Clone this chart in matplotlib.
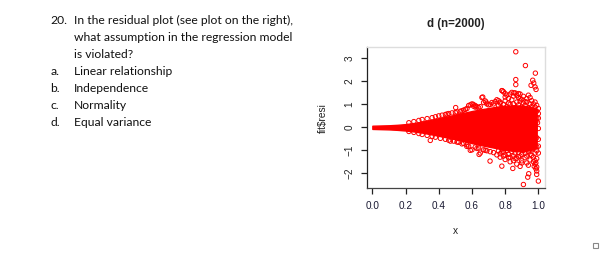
import matplotlib
matplotlib.use("Agg")
import matplotlib.pyplot as plt
from matplotlib.patches import Rectangle

# ---------------- data ----------------
question_number = "20."
question_lines = ["In the residual plot (see plot on the right),",
                  "what assumption in the regression model",
                  "is violated?"]
option_letters = ["a.", "b.", "c.", "d."]
option_texts = ["Linear relationship", "Independence", "Normality", "Equal variance"]

plot_title = "d (n=2000)"
x_label = "x"
y_label = "fit$resi"
x_ticks = [0.0, 0.2, 0.4, 0.6, 0.8, 1.0]
y_ticks = [-2, -1, 0, 1, 2, 3]

# dense core of the residual cloud (envelope)
core_x = [0.0, 0.05, 0.1, 0.15, 0.2, 0.25, 0.3, 0.35, 0.4, 0.45, 0.5, 0.55,
          0.6, 0.65, 0.7, 0.75, 0.8, 0.85, 0.9, 0.95, 0.99]
core_upper = [0.07, 0.08, 0.09, 0.11, 0.14, 0.19, 0.25, 0.32, 0.40, 0.47, 0.55, 0.63,
              0.71, 0.78, 0.84, 0.90, 0.94, 0.96, 0.95, 0.90, 0.80]
core_lower = [-0.07, -0.08, -0.09, -0.11, -0.14, -0.18, -0.23, -0.30, -0.37, -0.44, -0.52, -0.60,
              -0.69, -0.77, -0.84, -0.91, -0.98, -1.03, -1.05, -1.00, -0.90]

# individual visible points (edges and outliers)
pts_x = [
    # upper edge
    0.22, 0.25, 0.28, 0.30, 0.33, 0.36, 0.38, 0.40, 0.42, 0.44, 0.46, 0.48, 0.51, 0.53,
    0.55, 0.57, 0.58, 0.59, 0.60, 0.61, 0.62, 0.63, 0.64, 0.66, 0.67, 0.68, 0.69, 0.70,
    0.72, 0.73, 0.74, 0.75, 0.76, 0.78, 0.79, 0.80, 0.81, 0.82, 0.83, 0.84, 0.85, 0.86,
    0.87, 0.88, 0.89, 0.90, 0.91, 0.92, 0.93, 0.94, 0.95, 0.96, 0.97, 0.98, 0.99, 1.00,
    1.00, 1.00, 0.995, 1.00, 0.45, 0.50, 0.54, 0.56, 0.62, 0.65, 0.71, 0.77,
    # lower edge
    0.22, 0.25, 0.28, 0.30, 0.33, 0.36, 0.38, 0.41, 0.44, 0.46, 0.49, 0.52, 0.55, 0.57,
    0.59, 0.60, 0.62, 0.64, 0.65, 0.67, 0.69, 0.71, 0.73, 0.75, 0.77, 0.78, 0.79, 0.80,
    0.82, 0.83, 0.85, 0.86, 0.87, 0.88, 0.89, 0.90, 0.92, 0.93, 0.94, 0.95, 0.96, 0.97,
    0.98, 0.99, 1.00, 1.00, 1.00, 0.99, 0.985, 0.99, 0.47, 0.51, 0.54, 0.58, 0.63, 0.68,
    # upper fringe interior
    0.76, 0.77, 0.78, 0.79, 0.80, 0.81, 0.82, 0.83, 0.84, 0.85, 0.86, 0.87, 0.88, 0.89,
    0.90, 0.91, 0.92, 0.93, 0.94, 0.95, 0.96, 0.97, 0.98, 0.99, 0.975, 0.985, 0.97,
    0.80, 0.84, 0.88, 0.92, 0.96, 0.99, 0.82, 0.86, 0.90, 0.94, 0.98,
    # lower fringe interior
    0.76, 0.77, 0.78, 0.79, 0.80, 0.81, 0.82, 0.83, 0.84, 0.85, 0.86, 0.87, 0.88, 0.89,
    0.90, 0.91, 0.92, 0.93, 0.94, 0.95, 0.96, 0.97, 0.98, 0.99, 0.98, 0.985, 0.975,
    0.80, 0.84, 0.88, 0.92, 0.96, 0.99, 0.82, 0.86, 0.90, 0.94, 0.98,
    # outliers
    0.864, 0.922, 0.982, 0.864, 0.864, 0.966, 0.972, 0.956, 0.980, 0.986, 0.783, 0.800,
    0.852, 0.665, 0.685, 0.608, 0.880, 0.890, 0.502, 0.349, 0.569, 0.643, 0.709, 0.780,
    0.846, 0.910, 0.942, 0.936, 1.000, 0.990, 0.990, 0.900,
]
pts_y = [
    # upper edge
    0.20, 0.25, 0.30, 0.34, 0.38, 0.42, 0.46, 0.50, 0.53, 0.56, 0.60, 0.63, 0.67, 0.70,
    0.75, 0.82, 0.95, 0.98, 1.02, 0.92, 0.88, 0.90, 0.86, 1.30, 1.08, 1.15, 1.02, 0.98,
    1.08, 1.02, 1.12, 1.20, 1.16, 1.60, 1.55, 1.32, 1.40, 1.26, 1.45, 1.52, 1.36, 1.50,
    1.40, 1.30, 1.45, 1.22, 1.35, 1.12, 1.25, 1.40, 1.30, 1.16, 1.02, 1.10, 0.96, 0.82,
    0.60, 0.40, 0.20, -0.05, 0.58, 0.64, 0.72, 0.78, 0.95, 0.90, 1.00, 1.10,
    # lower edge
    -0.18, -0.22, -0.27, -0.31, -0.35, -0.39, -0.43, -0.48, -0.52, -0.56, -0.60, -0.65, -0.70, -0.76,
    -1.00, -0.98, -0.86, -0.90, -1.12, -0.98, -1.02, -1.06, -1.10, -1.20, -1.30, -1.08, -1.25, -1.40,
    -1.32, -1.50, -1.45, -1.36, -1.60, -1.28, -1.70, -1.46, -1.32, -1.55, -1.65, -1.42, -1.22, -1.50,
    -1.60, -1.36, -1.12, -0.82, -0.52, -1.02, -1.80, -2.05, -0.60, -0.64, -0.72, -0.82, -0.92, -1.00,
    # upper fringe interior
    0.95, 1.05, 0.85, 1.00, 1.15, 0.90, 1.05, 1.00, 1.20, 1.02, 0.85, 1.10, 0.98, 1.15,
    0.88, 1.06, 0.95, 1.10, 0.85, 1.02, 0.90, 0.75, 0.88, 0.70, 0.45, 0.25, -0.25,
    0.60, 0.70, 0.55, 0.65, 0.50, 0.40, 0.30, 0.20, 0.35, 0.15, 0.05,
    # lower fringe interior
    -1.02, -1.15, -0.95, -1.08, -1.20, -1.00, -1.18, -1.30, -1.05, -1.25, -1.12, -1.35, -1.10, -1.25,
    -1.18, -1.00, -1.12, -1.25, -1.05, -1.18, -0.95, -1.30, -1.12, -0.85, -1.45, -1.55, -1.70,
    -0.60, -0.70, -0.55, -0.75, -0.60, -0.45, -0.30, -0.20, -0.40, -0.25, -0.10,
    # outliers
    3.29, 2.69, 2.36, 2.08, 1.86, 2.05, 1.93, 1.83, 1.76, 1.65, 1.59, 1.47,
    1.50, 1.32, 1.10, 1.00, 1.47, 1.25, 0.86, -0.57, -0.83, -1.18, -1.47, -1.69,
    -1.79, -2.49, -2.02, -2.17, -2.34, -1.73, -1.90, -1.55,
]

# ---------------- figure ----------------
W, H = 612, 260
fig = plt.figure(figsize=(W / 100, H / 100), dpi=100)
fig.patch.set_facecolor("white")

def fx(px):
    return px / W

def fy(py):
    return 1 - py / H

txt_font = dict(family=["Lato", "DejaVu Sans"], fontsize=8.7, color="#111111", va="center")
line_y = [20.5, 37.5, 54.5]
fig.text(fx(50.5), fy(line_y[0]), question_number, **txt_font)
for yy, s in zip(line_y, question_lines):
    fig.text(fx(74), fy(yy), s, **txt_font)
opt_y = [71.5, 88.5, 105.5, 122.5]
for yy, l, s in zip(opt_y, option_letters, option_texts):
    fig.text(fx(50.5), fy(yy), l, **txt_font)
    fig.text(fx(74), fy(yy), s, **txt_font)

# plot axes
left, right, top, bottom = 366.7, 544.5, 46.5, 187.5
ax = fig.add_axes([fx(left), fy(bottom), (right - left) / W, (bottom - top) / H])
ax.set_xlim(-0.034, 1.037)
ax.set_ylim(-2.62, 3.52)

red = "#ff0000"
ax.fill_between(core_x, core_lower, core_upper, color=red, linewidth=1.0, edgecolor=red, zorder=2)
ax.scatter(pts_x, pts_y, s=10, facecolors="none", edgecolors=red, linewidths=0.7, zorder=3)

for side in ["top", "right"]:
    ax.spines[side].set_color("#dddddd")
    ax.spines[side].set_linewidth(1.0)
ax.spines["left"].set_color("#222222")
ax.spines["bottom"].set_color("#444444")
ax.spines["left"].set_linewidth(0.9)
ax.spines["bottom"].set_linewidth(0.9)

plot_font = ["Liberation Sans", "DejaVu Sans"]
ax.set_xticks(x_ticks)
ax.set_xticklabels(["%.1f" % v for v in x_ticks], family=plot_font, fontsize=7.2, color="#1a1a33")
ax.set_yticks(y_ticks)
ax.set_yticklabels(["\u2212%d" % -v if v < 0 else "%d" % v for v in y_ticks],
                   family=plot_font, fontsize=7.2, color="#222222")
for lab in ax.get_yticklabels():
    lab.set_rotation(90)
    lab.set_va("center")
ax.tick_params(axis="x", length=4, width=0.9, color="#222222", pad=6)
ax.tick_params(axis="y", length=4, width=0.9, color="#222222", pad=5)

fig.text((left + right) / 2 / W, fy(23.5), plot_title, family=plot_font, fontsize=8.3,
         fontweight="bold", color="#222222", ha="center", va="center")
fig.text((left + right) / 2 / W, fy(231), x_label, family=plot_font, fontsize=7.3,
         color="#222222", ha="center", va="center")
fig.text(fx(323), fy(118), y_label, family=plot_font, fontsize=7.3, color="#222222",
         ha="center", va="center", rotation=90)

# small checkbox-like square at bottom right
fig.patches.append(Rectangle((fx(593), fy(248)), 5 / W, 5 / H, transform=fig.transFigure,
                             fill=False, edgecolor="#888888", linewidth=0.8))

fig.savefig("out.png", dpi=100)
